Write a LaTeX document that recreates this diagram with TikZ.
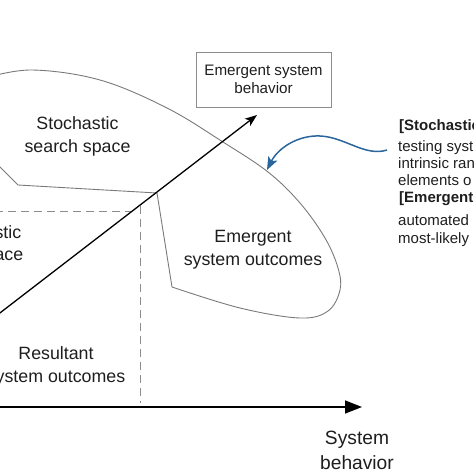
\documentclass[tikz,border=0pt]{standalone}
\usepackage{fontspec}
\setmainfont{Liberation Sans}
\usetikzlibrary{arrows.meta}
\definecolor{outlinegray}{HTML}{7A7A7A}
\definecolor{dashgray}{HTML}{8C8C8C}
\definecolor{curveblue}{HTML}{2A659C}
\definecolor{textdark}{HTML}{1E1E1E}
\begin{document}
\begin{tikzpicture}[x=1pt,y=-1pt,
  outline/.style={draw=outlinegray, line width=0.9pt, line join=round},
  dashline/.style={draw=dashgray, line width=1pt, dash pattern=on 8pt off 5pt},
  mainlbl/.style={align=center, font=\fontsize{17.8}{23}\selectfont, text=textdark, inner sep=0pt},
  axislbl/.style={align=center, font=\fontsize{19.2}{25}\selectfont, text=textdark, inner sep=0pt},
  boxlbl/.style={draw=dashgray, line width=1pt, align=center, font=\fontsize{15.2}{18}\selectfont, text=textdark, minimum width=135pt, minimum height=55pt, inner sep=0pt},
  notelbl/.style={anchor=base west, font=\fontsize{15}{18}\selectfont, text=textdark, inner sep=0pt},
  notehead/.style={notelbl, font=\fontsize{15}{18}\selectfont\bfseries},
  axisline/.style={draw=black, line width=1.6pt, -{Triangle[length=17pt,width=13pt]}},
  diagline/.style={draw=black, line width=1.3pt, -{Stealth[length=12pt,width=9pt,inset=3pt]}},
  bluearrow/.style={draw=curveblue, line width=1.5pt, -{Stealth[length=13pt,width=10pt,inset=3pt]}}
]
\useasboundingbox (0,0) rectangle (474,474);

% outline of the search spaces
\draw[outline] plot[smooth, tension=0.6] coordinates {(-15,78) (32,70) (100,80) (167,108) (223,142) (268,172) (300,203) (325,238) (338,268) (340,290) (328,311) (300,318) (240,308) (172,287)}
  -- (157,193) -- (18,185) -- (-6,161);

% dashed guides
\coordinate (hd1) at (-5,211);
\coordinate (hd2) at (132,211);
\coordinate (vd1) at (140,206);
\coordinate (vd2) at (140,403);
\draw[dashline] (hd1) -- (hd2);
\draw[dashline] (vd1) -- (vd2);

% axes
\coordinate (ax0) at (-10,407);
\coordinate (ax1) at (362,407);
\draw[axisline] (ax0) -- (ax1);
\coordinate (dg0) at (-10,320.6);
\coordinate (dg1) at (257,115);
\draw[diagline] (dg0) -- (dg1);

% labels
\node[boxlbl] (ebox) at (263.5,79.5) {Emergent system\\behavior};
\node[mainlbl] (sss) at (77.5,136) {Stochastic\\search space};
\node[mainlbl] (eso) at (253,250) {Emergent\\system outcomes};
\node[mainlbl] (rso) at (56,366) {Resultant\\system outcomes};
\node[axislbl] (sb) at (357,450) {System\\behavior};
\node[anchor=base east, font=\fontsize{17.8}{23}\selectfont, text=textdark, inner sep=0pt] (ds1) at (21.5,238) {stic};
\node[anchor=base east, font=\fontsize{17.8}{23}\selectfont, text=textdark, inner sep=0pt] (ds2) at (23.5,260) {ace};

% notes on the right
\node[notehead] (n1) at (399,130) {[Stochastic};
\node[notelbl] (n2) at (398,151) {testing syst};
\node[notelbl] (n3) at (398,168) {intrinsic ran};
\node[notelbl] (n4) at (398,185) {elements o};
\node[notehead] (n5) at (399,202) {[Emergent};
\node[notelbl] (n6) at (398,225) {automated};
\node[notelbl] (n7) at (398,243) {most-likely};

% blue pointer
\coordinate (bl0) at (387,150);
\coordinate (blm) at (320,136);
\coordinate (bl1) at (267,170);
\draw[bluearrow] (bl0) .. controls (365,157) and (345,137) .. (blm) .. controls (298,135) and (278,148) .. (bl1);
\end{tikzpicture}
\end{document}
